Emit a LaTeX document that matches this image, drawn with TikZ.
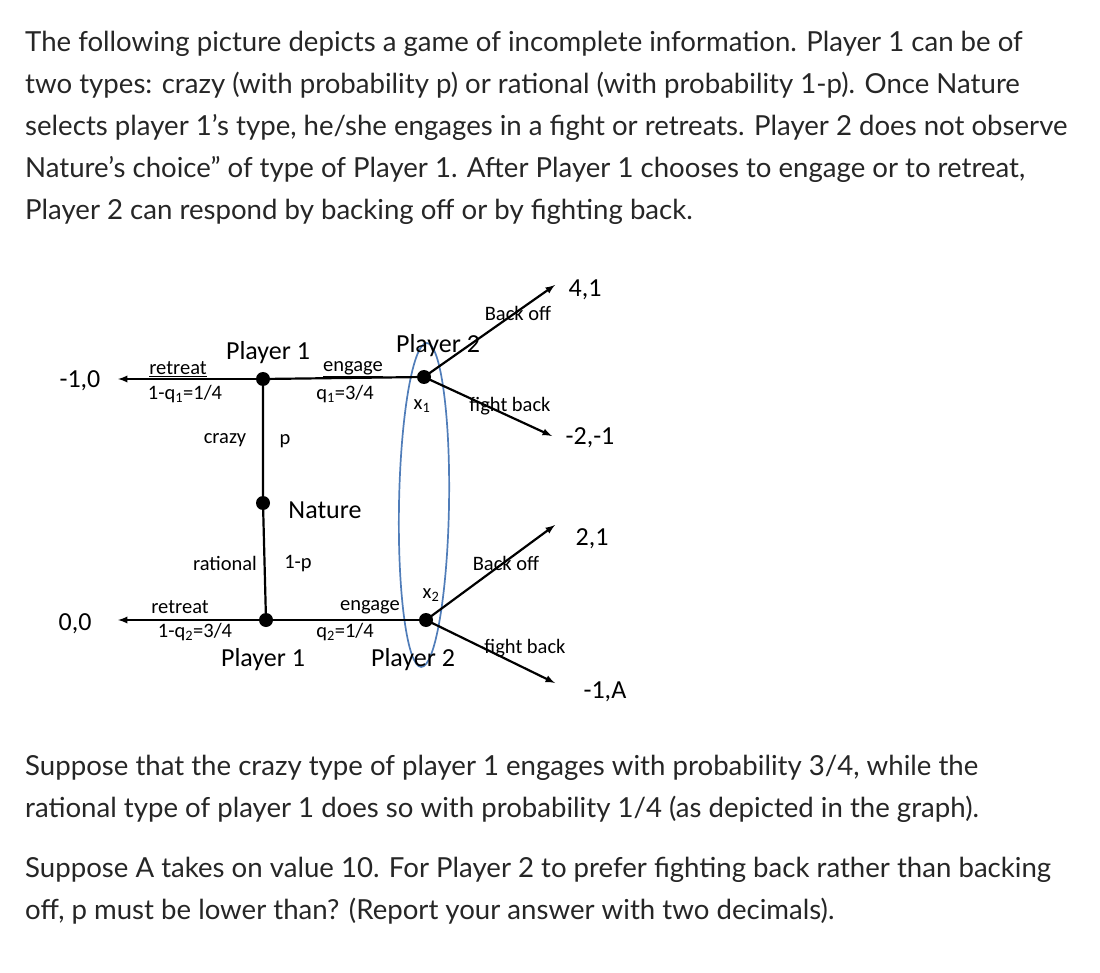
\documentclass[tikz,border=0pt]{standalone}
\usepackage{fontspec}
\setmainfont{Lato}
\newfontfamily\dg{Carlito}
\begin{document}
\begin{tikzpicture}[x=1pt,y=-1pt,
  txt/.style={anchor=base west,inner sep=0pt,font=\fontsize{27.6}{30}\selectfont,text=black!85},
  dot/.style={circle,fill=black,inner sep=0pt,minimum size=14pt},
  big/.style={font=\dg\fontsize{26}{28}\selectfont,inner sep=0pt},
  lab/.style={font=\dg\fontsize{20.5}{22}\selectfont,inner sep=0pt},
  edge/.style={line width=2.2pt},
  arr/.style={line width=2.2pt,-latex}]
\useasboundingbox (0,0) rectangle (1100,973);
\node[txt] (t1) at (25,52) {The following picture depicts a game of incomplete information. Player 1 can be of};
\node[txt] (t2) at (25,94) {two types: crazy (with probability p) or rational (with probability 1-p). Once Nature};
\node[txt] (t3) at (25,136) {selects player 1{\char39}s type, he/she engages in a fight or retreats. Player 2 does not observe};
\node[txt] (t4) at (25,178) {Nature{\char39}s choice{\char34} of type of Player 1. After Player 1 chooses to engage or to retreat,};
\node[txt] (t5) at (25,220) {Player 2 can respond by backing off or by fighting back.};
\node[txt] (t6) at (25,775) {Suppose that the crazy type of player 1 engages with probability 3/4, while the};
\node[txt] (t7) at (25,817) {rational type of player 1 does so with probability 1/4 (as depicted in the graph).};
\node[txt] (t8) at (25,877) {Suppose A takes on value 10. For Player 2 to prefer fighting back rather than backing};
\node[txt] (t9) at (25,919) {off, p must be lower than? (Report your answer with two decimals).};

\draw[draw={rgb,255:red,80;green,125;blue,185},line width=1.7pt,rotate around={-1:(424,505)}] (424,505) ellipse (25 and 162);

\node[dot] (a) at (263,379) {};
\node[dot] (b) at (424,377) {};
\node[dot] (n) at (263,503) {};
\node[dot] (c) at (266,620) {};
\node[dot] (d) at (426,620) {};
\coordinate (l1) at (118,379);
\coordinate (l2) at (118,620);
\coordinate (r1) at (555,285);
\coordinate (r2) at (552,436);
\coordinate (r3) at (555,525);
\coordinate (r4) at (555,683);
\draw[edge] (a) -- (n) -- (c);
\draw[edge] (a) -- (b);
\draw[edge] (c) -- (d);
\draw[arr] (a) -- (l1);
\draw[arr] (c) -- (l2);
\draw[arr] (b.center) -- (r1);
\draw[arr] (b.center) -- (r2);
\draw[arr] (d.center) -- (r3);
\draw[arr] (d.center) -- (r4);

\node[big] (p1) at (268,353) {Player 1};
\node[big] (p2) at (438,346) {Player 2};
\node[big] (nat) at (325,510) {Nature};
\node[big] (p1b) at (263,660) {Player 1};
\node[big] (p2b) at (413,660) {Player 2};
\node[big] (o1) at (80,381) {-1,0};
\node[big] (o2) at (75,624) {0,0};
\node[big] (o3) at (585,290) {4,1};
\node[big] (o4) at (590,438) {-2,-1};
\node[big] (o5) at (592,539) {2,1};
\node[big] (o6) at (605,692) {-1,A};
\node[lab] (rt1) at (178,369) {\underline{retreat}};
\node[lab] (q1a) at (185,394) {1-q\textsubscript{1}=1/4};
\node[lab] (en1) at (353,369) {\underline{engage}};
\node[lab] (q1b) at (345,394) {q\textsubscript{1}=3/4};
\node[lab] (x1) at (422,406) {x\textsubscript{1}};
\node[lab] (bo1) at (518,313) {Back off};
\node[lab] (fb1) at (510,406) {fight back};
\node[lab] (cr) at (225,440) {crazy};
\node[lab] (pp) at (285,441) {p};
\node[lab] (ra) at (225,563) {rational};
\node[lab] (op) at (298,564) {1-p};
\node[lab] (rt2) at (180,607) {retreat};
\node[lab] (q2a) at (195,632) {1-q\textsubscript{2}=3/4};
\node[lab] (en2) at (370,607) {engage};
\node[lab] (q2b) at (345,632) {q\textsubscript{2}=1/4};
\node[lab] (x2) at (431,595) {x\textsubscript{2}};
\node[lab] (bo2) at (506,563) {Back off};
\node[lab] (fb2) at (525,648) {fight back};
\end{tikzpicture}
\end{document}
